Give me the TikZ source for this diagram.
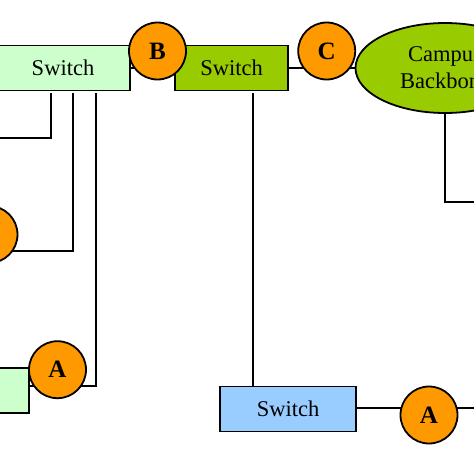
\documentclass[tikz,border=0pt]{standalone}
\usepackage{fontspec}
\setmainfont{Liberation Serif}
\usetikzlibrary{shapes.geometric,backgrounds}
\definecolor{lgreen}{HTML}{CCFFCC}
\definecolor{olive}{HTML}{99CC00}
\definecolor{orng}{HTML}{FF9900}
\definecolor{lblue}{HTML}{99CCFF}
\tikzset{
  box/.style={draw=black, line width=1.8pt, rectangle, minimum height=45pt, inner sep=0pt, font=\fontsize{22.5}{24}\selectfont},
  tag/.style={draw=black, line width=1.8pt, circle, fill=orng, minimum size=57pt, inner sep=0pt, font=\fontsize{25}{26}\selectfont\bfseries},
  link/.style={draw=black, line width=2pt},
}
\begin{document}
\begin{tikzpicture}[x=1pt,y=-1pt]
\useasboundingbox (0,0) rectangle (474,474);
\clip (0,0) rectangle (474,474);
% nodes
\node[box, fill=lgreen, minimum width=134pt] (sw1) at (63,68) {Switch};
\node[box, fill=olive, minimum width=113pt] (sw2) at (231.5,68) {Switch};
\node[box, fill=lblue, minimum width=136pt] (sw3) at (288,409) {Switch};
\node[box, fill=lgreen, minimum width=69pt] (sw4) at (-5.5,390.5) {};
\node[draw=black, line width=1.8pt, ellipse, fill=olive, minimum width=179pt, minimum height=90pt, inner sep=0pt, align=center, font=\fontsize{22.5}{27}\selectfont] (cb) at (445,68) {Campus\\Backbone};
\node[tag] (B) at (157.5,51) {B};
\node[tag] (C) at (326.7,51) {C};
\node[tag] (A1) at (57.5,369.7) {A};
\node[tag] (A2) at (429,415) {A};
\node[tag] (L) at (-11,234.5) {};
% bend and end points
\coordinate (p1) at (51,93);
\coordinate (p1b) at (51,138);
\coordinate (p1c) at (-5,138);
\coordinate (p2) at (73,93);
\coordinate (p2b) at (73,251);
\coordinate (p2c) at (0,251);
\coordinate (p3) at (96,93);
\coordinate (p3b) at (96,386);
\coordinate (p3c) at (10,386);
\coordinate (q1) at (253,93);
\coordinate (q2) at (253,386);
\coordinate (e1) at (445,202);
\coordinate (e2) at (480,202);
\coordinate (r1) at (480,408);
\begin{scope}[on background layer]
\draw[link] (sw1.east) -- (sw2.west);
\draw[link] (sw2.east) -- (cb.west |- sw2.east);
\draw[link] (cb.south) -- (e1) -- (e2);
\draw[link] (q1) -- (q2);
\draw[link] (sw3.east |- r1) -- (r1);
\draw[link] (p1) -- (p1b) -- (p1c);
\draw[link] (p2) -- (p2b) -- (p2c);
\draw[link] (p3) -- (p3b) -- (p3c);
\end{scope}
\end{tikzpicture}
\end{document}
